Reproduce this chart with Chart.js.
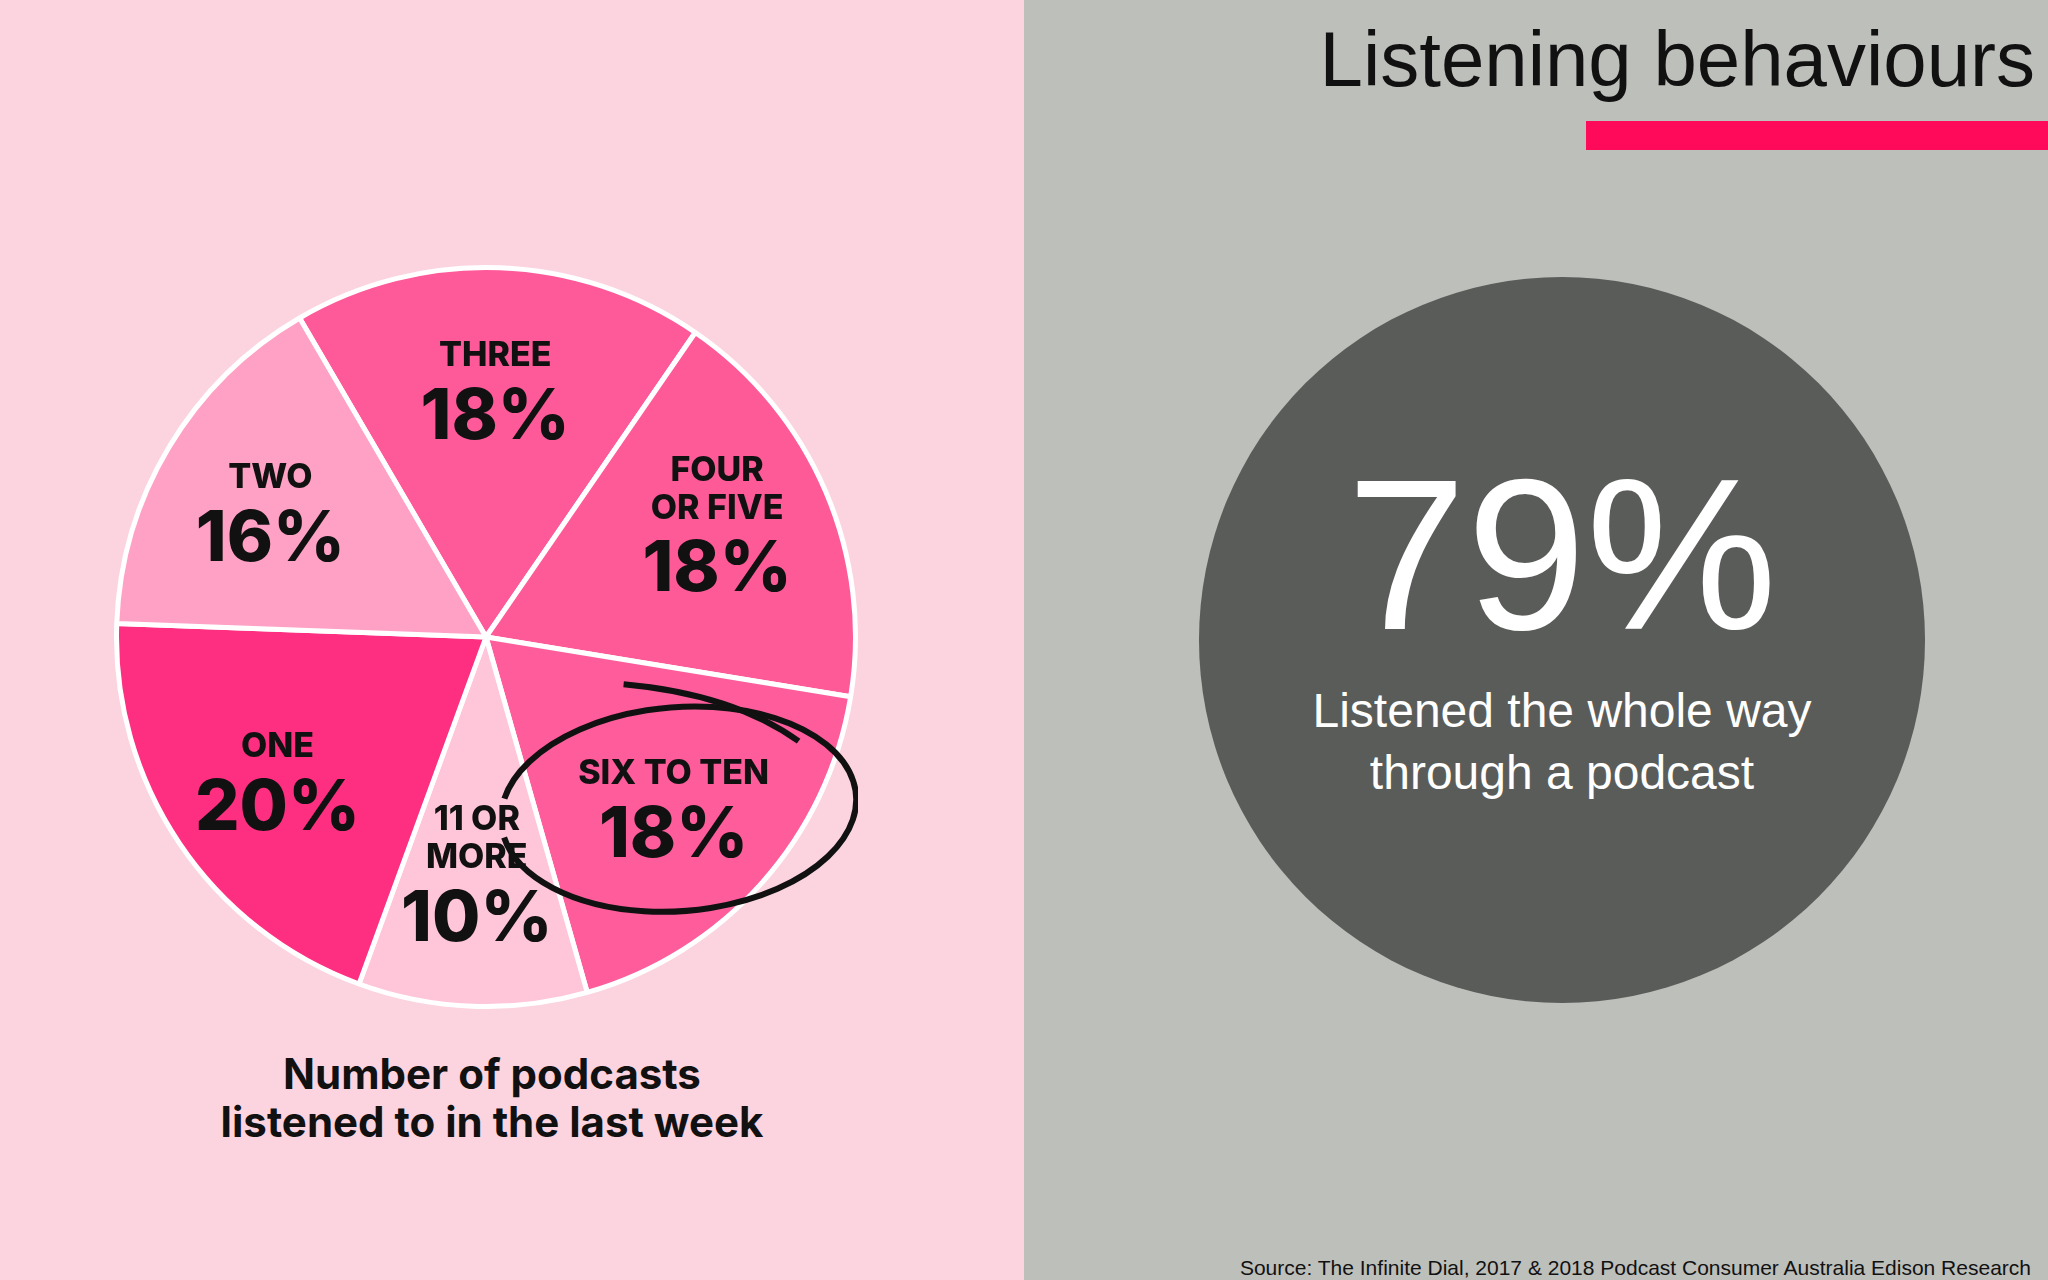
<!DOCTYPE html>
<html>
<head>
<meta charset="utf-8">
<script src="https://cdn.jsdelivr.net/npm/chart.js@4"></script>
<style>
  body { margin: 0; width: 2048px; height: 1280px; overflow: hidden; font-family: "Liberation Sans", Arial, sans-serif; }
  #left { position: absolute; left: 0; top: 0; width: 1024px; height: 1280px; background: #fcd4e0; }
  #right { position: absolute; left: 1024px; top: 0; width: 1024px; height: 1280px; background: #bdbfbb; }
  #pieBox { position: absolute; left: 114px; top: 265px; width: 744px; height: 744px; }
  #caption { position: absolute; left: 0; width: 984px; top: 1050px; text-align: center; font-family: Inter, "Open Sans", sans-serif; font-weight: 700; font-size: 42px; line-height: 48px; color: #111; }
  #title { position: absolute; right: 13px; top: 14px; font-size: 78px; color: #111; }
  #bar { position: absolute; left: 562px; right: 0; top: 121px; height: 29px; background: #ff0a5a; }
  #circle { position: absolute; left: 175px; top: 277px; width: 726px; height: 726px; border-radius: 50%; background: #5a5c59; }
  #big { position: absolute; left: 175px; width: 726px; top: 440px; text-align: center; color: #fff; font-size: 215px; line-height: 230px; }
  #sub { position: absolute; left: 175px; width: 726px; top: 680px; text-align: center; color: #fff; font-size: 48px; line-height: 62px; }
  #source { position: absolute; right: 17px; top: 1256px; font-size: 21px; color: #111; }
</style>
</head>
<body>
<div id="left">
  <div id="pieBox"><canvas id="pie"></canvas></div>
  <div id="caption">Number of podcasts<br>listened to in the last week</div>
</div>
<div id="right">
  <div id="title">Listening behaviours</div>
  <div id="bar"></div>
  <div id="circle"></div>
  <div id="big">79%</div>
  <div id="sub">Listened the whole way<br>through a podcast</div>
  <div id="source">Source: The Infinite Dial, 2017 &amp; 2018 Podcast Consumer Australia Edison Research</div>
</div>
<script>
const categories = [['THREE'], ['FOUR', 'OR FIVE'], ['SIX TO TEN'], ['11 OR', 'MORE'], ['ONE'], ['TWO']];
const values = [18, 18, 18, 10, 20, 16];
const colors = ['#fe5a9a', '#fe5a98', '#fe5c9b', '#ffc6da', '#fe2f80', '#ffa1c5'];

const labelPlugin = {
  id: 'sliceLabels',
  afterDatasetsDraw(chart) {
    const ctx = chart.ctx;
    const meta = chart.getDatasetMeta(0);
    meta.data.forEach((arc, i) => {
      const mid = (arc.startAngle + arc.endAngle) / 2;
      const r = arc.outerRadius * 0.68;
      const x = arc.x + Math.cos(mid) * r;
      const y = arc.y + Math.sin(mid) * r;
      const lines = categories[i];
      ctx.save();
      ctx.fillStyle = '#111';
      ctx.textAlign = 'center';
      ctx.textBaseline = 'middle';
      ctx.font = '800 34px Inter, "Open Sans", sans-serif';
      const top = y - 20 - (lines.length - 1) * 38;
      lines.forEach((t, j) => ctx.fillText(t, x, top + j * 38 - 10));
      ctx.font = '800 70px Inter, "Open Sans", sans-serif';
      ctx.fillText(values[i] + '%', x, y + 32);
      ctx.restore();
    });
    // hand-drawn circle around SIX TO TEN
    const a = meta.data[2];
    const mid = (a.startAngle + a.endAngle) / 2;
    const cx = a.x + Math.cos(mid) * a.outerRadius * 0.68;
    const cy = a.y + Math.sin(mid) * a.outerRadius * 0.68;
    ctx.save();
    ctx.strokeStyle = '#111';
    ctx.lineWidth = 6;
    ctx.beginPath();
    ctx.ellipse(cx + 5, cy + 5, 178, 102, -0.08, -2.9, 3.0);
    ctx.stroke();
    ctx.beginPath();
    ctx.moveTo(cx - 50, cy - 120);
    ctx.quadraticCurveTo(cx + 60, cy - 110, cx + 125, cy - 63);
    ctx.stroke();
    ctx.restore();
  }
};

new Chart(document.getElementById('pie'), {
  type: 'pie',
  data: {
    labels: categories.map((c) => c.join(' ')),
    datasets: [{ data: values, backgroundColor: colors, borderColor: '#ffffff', borderWidth: 5 }]
  },
  options: {
    responsive: true,
    maintainAspectRatio: false,
    animation: false,
    rotation: -30.3,
    layout: { padding: 0 },
    plugins: { legend: { display: false }, tooltip: { enabled: false } }
  },
  plugins: [labelPlugin]
});
</script>
</body>
</html>
